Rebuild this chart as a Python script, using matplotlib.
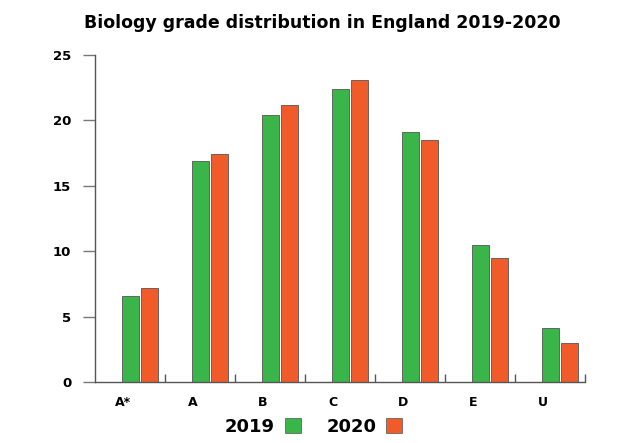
import matplotlib
matplotlib.use("Agg")
import matplotlib.pyplot as plt
from matplotlib.patches import Patch
import numpy as np

grades = ["A*", "A", "B", "C", "D", "E", "U"]
values_2019 = [6.6, 16.9, 20.4, 22.4, 19.1, 10.5, 4.1]
values_2020 = [7.2, 17.4, 21.2, 23.1, 18.5, 9.5, 3.0]
series_labels = ["2019", "2020"]
y_ticks = [0, 5, 10, 15, 20, 25]

green = "#3ab54a"
orange = "#f15a29"
edge = "#555555"
font = "DejaVu Sans"

fig = plt.figure(figsize=(6.4, 4.43), dpi=100)
ax = fig.add_axes([0.1484, 0.1377, 0.7656, 0.7381])

x = np.arange(len(grades))
w = 0.25
ax.bar(x + 0.507, values_2019, width=w, color=green, edgecolor=edge, linewidth=0.6)
ax.bar(x + 0.776, values_2020, width=w, color=orange, edgecolor=edge, linewidth=0.6)

ax.set_xlim(0, len(grades))
ax.set_ylim(0, 25)

# boundary ticks (inward) on x axis
ax.set_xticks(np.arange(1, len(grades) + 1))
ax.set_xticklabels([])
ax.tick_params(axis="x", direction="in", length=5.8, width=1, color="#555555")
# category labels
ax.set_xticks(x + 0.4, minor=True)
ax.set_xticklabels(grades, minor=True, fontsize=9, fontweight="bold", family=font)
ax.tick_params(axis="x", which="minor", length=0, pad=10)

ax.set_yticks(y_ticks)
ax.set_yticklabels([str(v) for v in y_ticks], fontsize=9.5, fontweight="bold", family=font)
ax.tick_params(axis="y", direction="out", length=8.6, width=1, color="#777777", pad=8.5)

for s in ["top", "right"]:
    ax.spines[s].set_visible(False)
for s in ["left", "bottom"]:
    ax.spines[s].set_color("#555555")
    ax.spines[s].set_linewidth(1)

fig.text(0.503, 0.948, "Biology grade distribution in England 2019-2020",
         ha="center", va="center", fontsize=12.5, fontweight="bold", family=font)

handles = [Patch(facecolor=green, edgecolor=edge, linewidth=0.5),
           Patch(facecolor=orange, edgecolor=edge, linewidth=0.5)]
leg = fig.legend(handles, series_labels, loc="center", bbox_to_anchor=(0.49, 0.036),
                 ncol=2, frameon=False, markerfirst=False,
                 prop={"family": font, "weight": "bold", "size": 13},
                 handlelength=0.9, handleheight=0.9, handletextpad=0.55,
                 columnspacing=1.4)

fig.savefig("out.png", dpi=100)
